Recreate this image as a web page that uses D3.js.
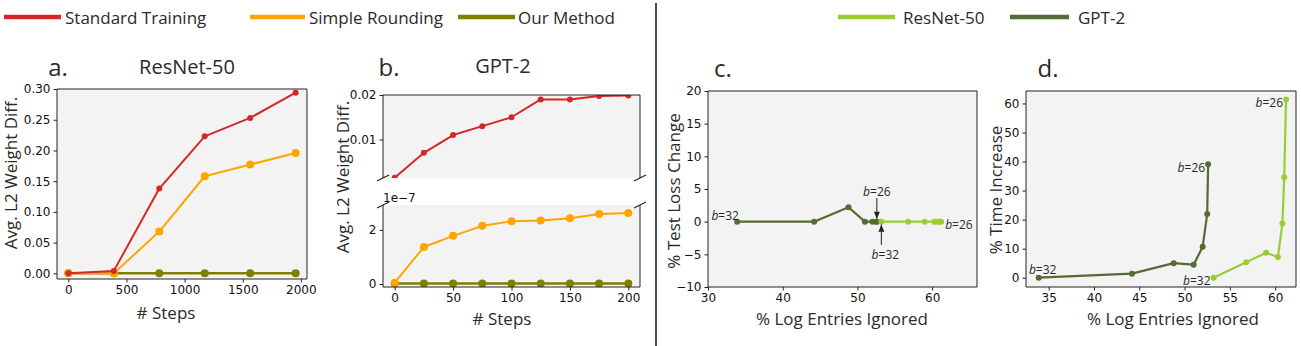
<!DOCTYPE html>
<html><head><meta charset="utf-8">
<script src="https://cdn.jsdelivr.net/npm/d3@7"></script>
<style>
body{margin:0;background:#fff;}
svg{display:block;}
.tick text{font-family:"DejaVu Sans",sans-serif;font-size:12px;fill:#111;}
.tick line{stroke:#222;}
.lbl{font-family:"Open Sans",sans-serif;fill:#2a2a2a;}
</style></head><body>
<svg id="c" width="1301" height="346"></svg>
<script>
// ---------- data ----------
const stepsA = [0, 391, 782, 1173, 1564, 1955];
const stdA = [0, 0.004, 0.138, 0.223, 0.253, 0.294];
const roundA = [0, 0, 0.068, 0.158, 0.177, 0.196];
const oursA = [0, 0, 0, 0, 0, 0];

const stepsB = [0, 25, 50, 75, 100, 125, 150, 175, 200];
const stdB = [0.0014, 0.007, 0.011, 0.013, 0.015, 0.019, 0.019, 0.0198, 0.0199];
const roundB = [0.05, 1.37, 1.78, 2.15, 2.32, 2.35, 2.43, 2.59, 2.62]; // x1e-7
const oursB = [0.02, 0.02, 0.02, 0.02, 0.02, 0.02, 0.02, 0.02, 0.02]; // x1e-7

const gptIgnored = [33.9, 44.2, 48.8, 51.0, 52.0, 52.5, 52.6];
const gptLoss = [0, 0, 2.2, 0, 0, 0, 0];
const gptTime = [0, 1.4, 5.0, 4.5, 10.7, 21.9, 39.1];
const resIgnored = [53.2, 56.8, 59.0, 60.3, 60.8, 61.0, 61.2];
const resLoss = [0, 0, 0, 0, 0, 0, 0];
const resTime = [0, 5.3, 8.6, 7.1, 18.7, 34.6, 61.4];

const ticksAx = [0, 500, 1000, 1500, 2000];
const ticksAy = [0, 0.05, 0.10, 0.15, 0.20, 0.25, 0.30];
const ticksBx = [0, 50, 100, 150, 200];
const ticksBtop = [0.01, 0.02];
const ticksBbot = [0, 2];
const ticksCx = [30, 40, 50, 60];
const ticksCy = [-10, -5, 0, 5, 10, 15, 20];
const ticksDx = [35, 40, 45, 50, 55, 60];
const ticksDy = [0, 10, 20, 30, 40, 50, 60];

const legendLeft = ["Standard Training", "Simple Rounding", "Our Method"];
const legendRight = ["ResNet-50", "GPT-2"];

const RED = "#d62728", ORANGE = "#ffa500", OLIVE = "#808000";
const LGREEN = "#9acd32", DGREEN = "#556b2f";
const BG = "#f3f3f3";

const svg = d3.select("#c");
const defs = svg.append("defs");
let clipId = 0;

function frame(x0, x1, y0, y1) {
  svg.append("rect").attr("x", x0).attr("y", y0).attr("width", x1 - x0).attr("height", y1 - y0)
    .attr("fill", BG);
  const id = "clip" + (clipId++);
  defs.append("clipPath").attr("id", id).append("rect")
    .attr("x", x0).attr("y", y0).attr("width", x1 - x0).attr("height", y1 - y0);
  return id;
}
function border(x0, x1, y0, y1, sides) {
  const g = svg.append("g").attr("stroke", "#222").attr("stroke-width", 1).attr("fill", "none");
  if (sides.includes("t")) g.append("line").attr("x1", x0).attr("x2", x1).attr("y1", y0).attr("y2", y0);
  if (sides.includes("b")) g.append("line").attr("x1", x0).attr("x2", x1).attr("y1", y1).attr("y2", y1);
  if (sides.includes("l")) g.append("line").attr("x1", x0).attr("x2", x0).attr("y1", y0).attr("y2", y1);
  if (sides.includes("r")) g.append("line").attr("x1", x1).attr("x2", x1).attr("y1", y0).attr("y2", y1);
}
function axes(x, y, xt, yt, xf, yf, yPos, xPos) {
  if (xt) {
    const ax = d3.axisBottom(x).tickValues(xt).tickSize(3.5).tickSizeOuter(0).tickPadding(3);
    if (xf) ax.tickFormat(xf);
    const g = svg.append("g").attr("transform", `translate(0,${yPos})`).call(ax);
    g.select(".domain").remove();
  }
  if (yt) {
    const ay = d3.axisLeft(y).tickValues(yt).tickSize(3.5).tickSizeOuter(0).tickPadding(3);
    if (yf) ay.tickFormat(yf);
    const g = svg.append("g").attr("transform", `translate(${xPos},0)`).call(ay);
    g.select(".domain").remove();
  }
}
function series(x, y, xs, ys, color, r, clip, lw) {
  const g = svg.append("g");
  if (clip) g.attr("clip-path", `url(#${clip})`);
  const line = d3.line().x((d, i) => x(xs[i])).y(d => y(d));
  g.append("path").datum(ys).attr("d", line).attr("fill", "none")
    .attr("stroke", color).attr("stroke-width", lw || 2).attr("stroke-linejoin", "round");
  g.selectAll("circle.m").data(ys).enter().append("circle")
    .attr("cx", (d, i) => x(xs[i])).attr("cy", d => y(d)).attr("r", r).attr("fill", color);
}
function text(x, y, s, size, anchor) {
  return svg.append("text").attr("class", "lbl").attr("x", x).attr("y", y)
    .attr("font-size", size).attr("text-anchor", anchor || "middle")
    .attr("dominant-baseline", "central").text(s);
}
function vtext(x, y, s, size) {
  svg.append("text").attr("class", "lbl").attr("transform", `translate(${x},${y}) rotate(-90)`)
    .attr("font-size", size).attr("text-anchor", "middle").attr("dominant-baseline", "central").text(s);
}
function btext(x, y, num, anchor) {
  const t = svg.append("text").attr("class", "lbl").attr("x", x).attr("y", y)
    .attr("font-size", 12).attr("text-anchor", anchor || "middle").attr("dominant-baseline", "central")
    .attr("fill", "#333");
  t.append("tspan").attr("font-style", "italic").text("b");
  t.append("tspan").text("=" + num);
}
function arrow(x, y1, y2) {
  svg.append("line").attr("x1", x).attr("x2", x).attr("y1", y1).attr("y2", y2)
    .attr("stroke", "#222").attr("stroke-width", 1);
  const dir = y2 > y1 ? 1 : -1;
  svg.append("path").attr("d", `M${x - 3},${y2 - dir * 7}L${x + 3},${y2 - dir * 7}L${x},${y2}Z`).attr("fill", "#222");
}

const LAB = 17;

// ---------- panel a ----------
{
  const L = 57, R = 307, T = 89, B = 279;
  const x = d3.scaleLinear([-97.75, 2052.75], [L, R]);
  const y = d3.scaleLinear([-0.0092, 0.30], [B, T]);
  const cl = frame(L, R, T, B);
  series(x, y, stepsA, oursA, OLIVE, 4, cl, 2.5);
  series(x, y, stepsA, roundA, ORANGE, 4, cl, 2);
  series(x, y, stepsA, stdA, RED, 3, cl, 2);
  border(L, R, T, B, "tblr");
  axes(x, y, ticksAx, ticksAy, d3.format("d"), d3.format(".2f"), B, L);
  text(58, 66, "a.", 24);
  text(187, 66, "ResNet-50", 20);
  text(166, 312, "# Steps", LAB);
  vtext(10, 173, "Avg. L2 Weight Diff.", LAB);
}

// ---------- panel b ----------
{
  const L = 383, R = 640, T1 = 95, B1 = 178, T2 = 205, B2 = 287;
  const x = d3.scaleLinear([-10, 210], [L, R]);
  const yT = d3.scaleLinear([0.00134, 0.02], [B1, T1]);
  const yB = d3.scaleLinear([-0.11, 2.92], [B2, T2]);
  const c1 = frame(L, R, T1, B1);
  const c2 = frame(L, R, T2, B2);
  series(x, yT, stepsB, stdB, RED, 3, c1, 2);
  series(x, yB, stepsB, oursB, OLIVE, 4, c2, 2.5);
  series(x, yB, stepsB, roundB, ORANGE, 4, c2, 2);
  border(L, R, T1, B1, "tlr");
  border(L, R, T2, B2, "blr");
  axes(null, yT, null, ticksBtop, null, d3.format(".2f"), null, L);
  axes(x, yB, ticksBx, ticksBbot, d3.format("d"), d3.format("d"), B2, L);
  // break marks
  const br = svg.append("g").attr("stroke", "#222").attr("stroke-width", 1.2);
  [[L, B1], [R, B1], [L, T2], [R, T2]].forEach(([bx, by]) => {
    br.append("line").attr("x1", bx - 6).attr("y1", by + 3).attr("x2", bx + 6).attr("y2", by - 3);
  });
  svg.append("text").attr("x", L).attr("y", 198).attr("font-family", "DejaVu Sans")
    .attr("font-size", 12).attr("dominant-baseline", "central").attr("fill", "#111").text("1e\u22127");
  text(389, 66, "b.", 24, "middle");
  text(503, 65, "GPT-2", 20);
  text(502, 318, "# Steps", LAB);
  vtext(342, 177, "Avg. L2 Weight Diff.", LAB);
}

// ---------- separator ----------
svg.append("line").attr("x1", 656).attr("x2", 656).attr("y1", 3).attr("y2", 346)
  .attr("stroke", "#111").attr("stroke-width", 1.5);

// ---------- panel c ----------
{
  const L = 708, R = 977, T = 91, B = 287;
  const x = d3.scaleLinear([30, 66], [L, R]);
  const y = d3.scaleLinear([-10, 20], [B, T]);
  const cl = frame(L, R, T, B);
  series(x, y, gptIgnored, gptLoss, DGREEN, 3, cl, 2.2);
  series(x, y, resIgnored, resLoss, LGREEN, 3, cl, 2.2);
  border(L, R, T, B, "tblr");
  axes(x, y, ticksCx, ticksCy, d3.format("d"), d3.format("d"), B, L);
  btext(x(gptIgnored[0]) - 12, y(0) - 7, 32);
  btext(x(gptIgnored[6]), 190.5, 26);
  arrow(x(gptIgnored[6]), 198, y(0) - 3);
  btext(x(resIgnored[0]) + 4, 254, 32);
  arrow(x(resIgnored[0]), 245, y(0) + 3);
  btext(x(resIgnored[6]) + 4, y(0) + 2, 26, "start");
  text(723, 67, "c.", 24);
  text(842, 318, "% Log Entries Ignored", LAB);
  vtext(673, 191, "% Test Loss Change", LAB);
}

// ---------- panel d ----------
{
  const L = 1026, R = 1296, T = 91, B = 287;
  const x = d3.scaleLinear([32.5, 62.3], [L, R]);
  const y = d3.scaleLinear([-3.2, 64.3], [B, T]);
  const cl = frame(L, R, T, B);
  series(x, y, gptIgnored, gptTime, DGREEN, 3, cl, 2.2);
  series(x, y, resIgnored, resTime, LGREEN, 3, cl, 2.2);
  border(L, R, T, B, "tblr");
  axes(x, y, ticksDx, ticksDy, d3.format("d"), d3.format("d"), B, L);
  btext(x(gptIgnored[0]) + 4, y(gptTime[0]) - 9, 32);
  btext(x(gptIgnored[6]) - 3, y(gptTime[6]) + 3, 26, "end");
  btext(x(resIgnored[6]) - 3, y(resTime[6]) + 3, 26, "end");
  btext(x(resIgnored[0]) - 3, y(resTime[0]) + 2, 32, "end");
  text(1048, 67, "d.", 24);
  text(1173, 318, "% Log Entries Ignored", LAB);
  vtext(995, 190, "% Time Increase", LAB);
}

// ---------- legends ----------
{
  const items = [
    { x0: 4, x1: 61, color: RED, label: legendLeft[0], tx: 65 },
    { x0: 250, x1: 305, color: ORANGE, label: legendLeft[1], tx: 309 },
    { x0: 458, x1: 515, color: OLIVE, label: legendLeft[2], tx: 518 },
    { x0: 838, x1: 895, color: LGREEN, label: legendRight[0], tx: 903 },
    { x0: 1010, x1: 1069, color: DGREEN, label: legendRight[1], tx: 1078 }
  ];
  items.forEach(it => {
    svg.append("line").attr("x1", it.x0).attr("x2", it.x1).attr("y1", 17).attr("y2", 17)
      .attr("stroke", it.color).attr("stroke-width", 4.5);
    text(it.tx, 17, it.label, 17, "start");
  });
}
</script></body></html>
